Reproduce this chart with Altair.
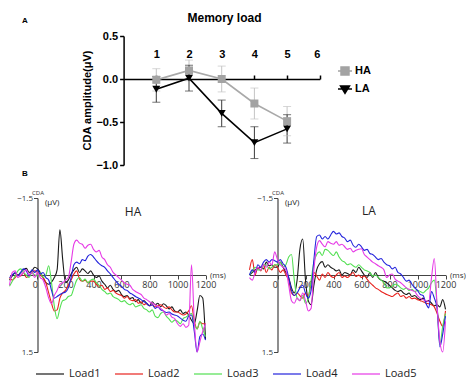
import altair as alt
import pandas as pd

# ---------------- Panel A data ----------------
loads = [1, 2, 3, 4, 5]
ha_mean = [-0.01, 0.10, 0.00, -0.285, -0.49]
ha_err = [0.13, 0.12, 0.15, 0.18, 0.17]
la_mean = [-0.12, 0.01, -0.40, -0.74, -0.58]
la_err = [0.15, 0.15, 0.155, 0.185, 0.165]
groups = ["HA", "LA"]
x_ticks_a = [1, 2, 3, 4, 5, 6]
y_ticks_a = [-1.0, -0.5, 0.0, 0.5]

# ---------------- Panel B data ----------------
times = list(range(-200, 1201, 20))
load_names = ["Load1", "Load2", "Load3", "Load4", "Load5"]
x_ticks_b = [0, 200, 400, 600, 800, 1000, 1200]
y_ticks_b = [-1.5, 1.5]

ha_load1 = [
    0.10, 0.02, -0.04, 0.00, -0.05, -0.10, -0.13, -0.05, -0.08, -0.15,
    -0.12, -0.05, 0.05, 0.15, 0.18, 0.14, 0.05, -0.10, -0.88, -0.30,
    0.15, 0.10, -0.02, -0.10, -0.15, -0.05, -0.12, -0.08, -0.03, -0.08,
    0.00, 0.05, 0.02, 0.12, 0.18, 0.25, 0.20, 0.28, 0.32, 0.30,
    0.38, 0.42, 0.40, 0.46, 0.44, 0.52, 0.48, 0.55, 0.50, 0.56,
    0.60, 0.52, 0.58, 0.55, 0.62, 0.56, 0.60, 0.66, 0.62, 0.70,
    0.72, 0.68, 0.75, 0.72, 0.78, 0.88, 0.95, 0.70, 0.40, 0.45,
    1.25]
ha_load2 = [
    0.05, 0.10, 0.05, 0.00, 0.02, -0.05, 0.05, 0.00, -0.05, -0.08,
    -0.05, 0.00, 0.05, 0.15, 0.35, 0.55, 0.70, 0.68, 0.45, 0.35,
    0.30, 0.20, 0.10, -0.02, -0.08, 0.08, 0.12, 0.10, 0.15, 0.12,
    0.12, 0.18, 0.22, 0.20, 0.28, 0.25, 0.32, 0.30, 0.35, 0.38,
    0.40, 0.45, 0.42, 0.48, 0.50, 0.48, 0.55, 0.52, 0.58, 0.55,
    0.60, 0.58, 0.62, 0.60, 0.58, 0.62, 0.65, 0.62, 0.68, 0.72,
    0.72, 0.75, 0.78, 0.76, 0.70, 0.60, 0.90, 1.05, 0.92, 0.95,
    0.95]
ha_load3 = [
    0.22, 0.12, 0.02, -0.08, -0.12, -0.05, 0.00, 0.05, -0.05, 0.00,
    0.02, -0.05, 0.05, 0.00, -0.18, 0.15, 0.60, 0.85, 0.65, 0.50,
    0.48, 0.42, 0.40, 0.25, 0.10, 0.05, 0.12, 0.08, 0.15, 0.10,
    0.08, 0.15, 0.20, 0.28, 0.32, 0.37, 0.35, 0.42, 0.45, 0.48,
    0.52, 0.50, 0.55, 0.58, 0.55, 0.62, 0.60, 0.58, 0.65, 0.68,
    0.72, 0.68, 0.80, 0.83, 0.75, 0.72, 0.80, 0.86, 0.92, 0.88,
    0.90, 0.95, 0.85, 0.82, 0.78, 0.75, 0.95, 1.05, 0.90, 1.05,
    1.20]
ha_load4 = [
    0.05, 0.00, -0.05, 0.02, -0.05, -0.12, -0.08, 0.02, -0.10, -0.05,
    -0.10, -0.02, -0.05, 0.05, 0.10, 0.30, 0.45, 0.42, 0.38, 0.35,
    0.33, 0.25, 0.05, -0.20, -0.25, -0.22, -0.30, -0.28, -0.37, -0.40,
    -0.35, -0.28, -0.22, -0.18, -0.15, -0.08, -0.02, 0.05, 0.12, 0.18,
    0.22, 0.28, 0.30, 0.35, 0.38, 0.42, 0.45, 0.48, 0.52, 0.55,
    0.60, 0.58, 0.65, 0.62, 0.68, 0.70, 0.73, 0.72, 0.76, 0.78,
    0.80, 0.84, 0.88, 0.90, 0.80, 0.78, 1.10, 1.50, 1.20, 1.15,
    1.27]
ha_load5 = [
    0.20, -0.05, -0.08, 0.05, 0.00, -0.05, -0.10, 0.00, -0.05, 0.05,
    -0.05, 0.05, 0.10, 0.25, 0.45, 0.56, 0.40, 0.30, 0.18, 0.15,
    0.10, 0.05, -0.25, -0.60, -0.68, -0.62, -0.60, -0.52, -0.58, -0.60,
    -0.50, -0.45, -0.48, -0.35, -0.30, -0.20, -0.15, -0.05, 0.00, 0.05,
    0.10, 0.15, 0.18, 0.20, 0.28, 0.32, 0.35, 0.38, 0.45, 0.48,
    0.52, 0.55, 0.58, 0.62, 0.65, 0.70, 0.78, 0.75, 0.82, 0.85,
    0.95, 1.00, 0.95, 1.02, 0.98, -0.20, 0.90, 1.50, 1.30, 1.10,
    0.95]

la_load1 = [
    0.00, -0.05, -0.10, -0.12, -0.15, -0.12, -0.25, -0.18, -0.20, -0.15,
    -0.15, -0.25, -0.15, -0.05, 0.05, 0.25, 0.35, 0.10, -0.50, -0.70,
    0.10, 0.50, 0.58, 0.20, -0.10, -0.22, -0.26, -0.15, -0.20, -0.15,
    -0.12, -0.08, -0.10, 0.00, -0.05, -0.03, 0.00, -0.10, -0.05, -0.15,
    -0.08, 0.00, 0.05, -0.05, 0.05, -0.05, 0.05, 0.10, 0.12, 0.15,
    0.20, 0.25, 0.30, 0.32, 0.30, 0.35, 0.38, 0.35, 0.42, 0.40,
    0.45, 0.48, 0.45, 0.52, 0.50, 0.55, 0.60, 0.58, 0.62, 0.48,
    0.67]
la_load2 = [
    -0.10, -0.30, 0.00, -0.15, -0.08, -0.20, -0.05, -0.15, -0.10, -0.20,
    -0.15, -0.05, -0.10, 0.00, 0.10, 0.35, 0.40, 0.35, 0.40, 0.45,
    0.35, 0.40, 0.15, -0.05, 0.02, 0.10, -0.02, 0.05, -0.05, 0.02,
    0.05, 0.00, -0.05, 0.05, 0.02, 0.05, 0.00, -0.05, 0.03, 0.00,
    0.05, 0.02, 0.08, 0.15, 0.20, 0.25, 0.28, 0.32, 0.35, 0.38,
    0.40, 0.42, 0.38, 0.35, 0.42, 0.40, 0.45, 0.42, 0.46, 0.45,
    0.48, 0.50, 0.52, 0.55, 0.56, 0.58, 0.62, 0.75, 0.90, 1.00,
    0.70]
la_load3 = [
    0.00, -0.08, -0.15, -0.10, -0.10, -0.18, -0.20, -0.12, -0.15, -0.20,
    -0.20, -0.25, -0.15, -0.20, -0.35, -0.40, 0.10, 0.45, 0.50, 0.40,
    0.55, 0.45, 0.10, -0.25, -0.40, -0.45, -0.38, -0.50, -0.48, -0.42,
    -0.38, -0.45, -0.35, -0.28, -0.25, -0.20, -0.22, -0.18, -0.15, -0.20,
    -0.15, -0.10, -0.08, -0.05, 0.02, 0.00, 0.05, 0.10, 0.15, 0.25,
    0.25, 0.22, 0.18, 0.20, 0.25, 0.28, 0.25, 0.30, 0.28, 0.32,
    0.30, 0.32, 0.35, 0.30, 0.25, 0.15, 0.10, 0.60, 1.35, 1.00,
    0.75]
la_load4 = [
    0.00, -0.10, -0.05, -0.20, -0.15, -0.25, -0.30, -0.25, -0.30, -0.28,
    -0.25, -0.30, -0.22, -0.15, 0.05, 0.30, 0.40, 0.35, 0.25, 0.20,
    0.35, 0.45, 0.30, -0.30, -0.75, -0.78, -0.70, -0.75, -0.70, -0.78,
    -0.85, -0.80, -0.82, -0.75, -0.72, -0.65, -0.68, -0.58, -0.54, -0.60,
    -0.55, -0.48, -0.50, -0.42, -0.40, -0.35, -0.30, -0.32, -0.25, -0.20,
    -0.18, -0.12, -0.15, -0.05, -0.02, 0.05, 0.12, 0.10, 0.18, 0.25,
    0.30, 0.38, 0.40, 0.55, 0.64, 0.32, 0.45, 0.65, 1.40, 1.15,
    0.80]
la_load5 = [
    0.05, 0.10, -0.05, -0.15, -0.10, -0.20, -0.15, -0.25, -0.20, -0.45,
    -0.30, -0.20, -0.15, -0.10, 0.20, 0.50, 0.55, 0.45, 0.50, 0.35,
    0.50, 0.70, 0.65, -0.10, -0.55, -0.67, -0.60, -0.55, -0.65, -0.62,
    -0.60, -0.65, -0.58, -0.60, -0.55, -0.50, -0.52, -0.45, -0.48, -0.50,
    -0.51, -0.40, -0.35, -0.30, -0.25, -0.22, -0.18, -0.15, -0.10, 0.05,
    0.00, -0.02, 0.08, 0.12, 0.15, 0.20, 0.25, 0.28, 0.30, 0.32,
    0.40, 0.45, 0.48, 0.50, 0.52, 0.05, -0.32, 0.60, 1.30, 1.50,
    0.90]

ha_series = [ha_load1, ha_load2, ha_load3, ha_load4, ha_load5]
la_series = [la_load1, la_load2, la_load3, la_load4, la_load5]
for s in ha_series + la_series:
    assert len(s) == len(times), len(s)

# ---------------- tables ----------------
df_a = pd.DataFrame({
    "load": loads * 2,
    "series": ["HA"] * 5 + ["LA"] * 5,
    "mean": ha_mean + la_mean,
    "err": ha_err + la_err,
})
df_a["lo"] = df_a["mean"] - df_a["err"]
df_a["hi"] = df_a["mean"] + df_a["err"]
df_a_ha = df_a[df_a["series"] == "HA"]
df_a_la = df_a[df_a["series"] == "LA"]


def long_table(series_list):
    rows = []
    for name, vals in zip(load_names, series_list):
        for t, v in zip(times, vals):
            rows.append({"time": t, "load": name, "value": v})
    return pd.DataFrame(rows)


df_ha = long_table(ha_series)
df_la = long_table(la_series)

# ---------------- layout constants ----------------
W, H = 458, 374
FA = "Liberation Sans"
FB = "Open Sans"

xa_scale = alt.Scale(domain=[0, 6], range=[115.6, 311.8], nice=False, zero=False)
ya_scale = alt.Scale(domain=[-1.0, 0.5], range=[157, 28], nice=False, zero=False)
YA0 = 157 - (1.0 / 1.5) * (157 - 28)

yb_scale = alt.Scale(domain=[-1.5, 1.5], range=[190, 344], nice=False, zero=False)
YB0 = (190 + 344) / 2
xb_left = alt.Scale(domain=[-200, 1200], range=[1.5, 197.5], nice=False, zero=False)
xb_right = alt.Scale(domain=[-200, 1200], range=[241.5, 437.5], nice=False, zero=False)

err_colors = alt.Scale(domain=groups, range=["#c4c4c4", "#3a3a3a"])
line_colors = alt.Scale(domain=groups, range=["#a9a9a9", "#000000"])
HA_GRAY = "#a3a3a3"
load_colors = alt.Scale(domain=load_names,
                        range=["#1a1a1a", "#e8231f", "#52e052", "#2424dc", "#e63ae6"])

# legend symbols for A: marker with a short line through it
HA_SYM = "M-1,0H-0.57M0.57,0H1M-0.57,-0.57H0.57V0.57H-0.57Z"
LA_SYM = "M-1,0H1M-0.64,-0.42H0.64L0,0.62Z"

# ---------------- Panel A ----------------
axis_xa = alt.Axis(orient="top", offset=-YA0, values=x_ticks_a, format="d",
                   tickSize=4, tickWidth=1.5, tickColor="black",
                   domainColor="black", domainWidth=1.5, grid=False,
                   labelFont=FA, labelFontSize=11, labelFontWeight="bold",
                   labelColor="black", labelPadding=16,
                   title="Memory load", titleFont=FA, titleFontSize=12,
                   titleFontWeight="bold", titleColor="black",
                   titleX=216, titleY=9 - YA0, titleAlign="center",
                   titleBaseline="middle")
axis_ya = alt.Axis(orient="left", offset=-115.6, values=y_ticks_a, format=".1f",
                   tickSize=4, tickWidth=1.5, tickColor="black",
                   domainColor="black", domainWidth=1.5, grid=False,
                   labelFont=FA, labelFontSize=11, labelFontWeight="bold",
                   labelColor="black", labelPadding=2,
                   title="CDA amplitude(μV)", titleFont=FA, titleFontSize=11,
                   titleFontWeight="bold", titleColor="black",
                   titleAngle=270, titleX=-36, titleY=92,
                   titleAlign="center", titleBaseline="middle")

a_err = alt.Chart(df_a).mark_rule(strokeWidth=1).encode(
    x=alt.X("load:Q", scale=xa_scale, axis=axis_xa),
    y=alt.Y("lo:Q", scale=ya_scale, axis=axis_ya),
    y2="hi:Q",
    color=alt.Color("series:N", scale=err_colors, legend=None),
)
a_cap_lo = alt.Chart(df_a).mark_tick(orient="horizontal", size=8, thickness=1).encode(
    x=alt.X("load:Q", scale=xa_scale, axis=None),
    y=alt.Y("lo:Q", scale=ya_scale, axis=None),
    color=alt.Color("series:N", scale=err_colors, legend=None),
)
a_cap_hi = alt.Chart(df_a).mark_tick(orient="horizontal", size=8, thickness=1).encode(
    x=alt.X("load:Q", scale=xa_scale, axis=None),
    y=alt.Y("hi:Q", scale=ya_scale, axis=None),
    color=alt.Color("series:N", scale=err_colors, legend=None),
)
a_line = alt.Chart(df_a).mark_line(strokeWidth=1.6).encode(
    x=alt.X("load:Q", scale=xa_scale, axis=None),
    y=alt.Y("mean:Q", scale=ya_scale, axis=None),
    color=alt.Color("series:N", scale=line_colors, legend=None),
)


def a_points(df, name, color, shape, sym, legend_y):
    leg = alt.Legend(title=None, orient="none", legendX=329, legendY=legend_y,
                     symbolType=sym, symbolSize=196, symbolStrokeColor=color,
                     symbolStrokeWidth=1.5, labelFont=FA, labelFontSize=11,
                     labelFontWeight="bold", labelColor="black", labelOffset=2,
                     padding=0)
    return alt.Chart(df).mark_point(filled=True, opacity=1, size=64, shape=shape).encode(
        x=alt.X("load:Q", scale=xa_scale, axis=None),
        y=alt.Y("mean:Q", scale=ya_scale, axis=None),
        color=alt.Color("series:N", scale=alt.Scale(domain=[name], range=[color]),
                        legend=leg),
    )


a_pts_ha = a_points(df_a_ha, "HA", HA_GRAY, "square", HA_SYM, 55)
a_pts_la = a_points(df_a_la, "LA", "#000000", "triangle-down", LA_SYM, 73)

# ---------------- Panel B ----------------
def b_xaxis(title_x):
    return alt.Axis(orient="bottom", offset=-(H - YB0), values=x_ticks_b, format="d",
                    tickSize=4, tickColor="#444", domainColor="#444",
                    domainWidth=1.2, grid=False, labelFont=FB, labelFontSize=9,
                    labelColor="#333", labelPadding=1,
                    labelAlign={"condition": {"test": "datum.value === 0", "value": "right"},
                                "value": "center"},
                    title="(ms)", titleFont=FB, titleFontSize=8,
                    titleFontWeight="normal", titleColor="#333",
                    titleX=title_x, titleY=0, titleAlign="left",
                    titleBaseline="middle")


def b_yaxis(x0):
    return alt.Axis(orient="left", offset=-x0, values=y_ticks_b, format=".1f",
                    tickSize=4, tickColor="#444", domainColor="#444",
                    domainWidth=1.2, grid=False, labelFont=FB, labelFontSize=8,
                    labelColor="#333", labelPadding=1,
                    title="CDA", titleFont=FB, titleFontSize=6,
                    titleFontWeight="normal", titleColor="#333", titleAngle=0,
                    titleX=0, titleY=184, titleAlign="center",
                    titleBaseline="middle")


b_ha = alt.Chart(df_ha).mark_line(strokeWidth=1.1, interpolate="monotone").encode(
    x=alt.X("time:Q", scale=xb_left, axis=b_xaxis(201.5)),
    y=alt.Y("value:Q", scale=yb_scale, axis=b_yaxis(29.5)),
    color=alt.Color("load:N", scale=load_colors,
                    legend=alt.Legend(title=None, orient="none", direction="horizontal",
                                      legendX=27, legendY=351, symbolType="stroke",
                                      symbolSize=784, symbolStrokeWidth=1.2,
                                      labelFont=FB, labelFontSize=11, labelColor="#222",
                                      labelOffset=4, columnPadding=11, padding=0)),
)
b_la = alt.Chart(df_la).mark_line(strokeWidth=1.1, interpolate="monotone").encode(
    x=alt.X("time:Q", scale=xb_right, axis=b_xaxis(441.5)),
    y=alt.Y("value:Q", scale=yb_scale, axis=b_yaxis(269.5)),
    color=alt.Color("load:N", scale=load_colors, legend=None),
)

# ---------------- annotations ----------------
def label(text, x, y, size, weight="normal", font=FB, align="center", color="#222"):
    return alt.Chart(pd.DataFrame({"t": [text]})).mark_text(
        font=font, fontSize=size, fontWeight=weight, align=align,
        baseline="middle", color=color).encode(
        x=alt.value(x), y=alt.value(y), text="t:N")


annots = [
    label("A", 17, 13, 8, "bold", FA, color="black"),
    label("B", 17, 166, 8, "bold", FA, color="black"),
    label("HA", 125, 204, 12),
    label("LA", 361, 203, 12),
    label("(μV)", 37, 195, 8, align="left"),
    label("(μV)", 277, 195, 8, align="left"),
]

chart = alt.layer(
    a_err, a_cap_lo, a_cap_hi, a_line, a_pts_ha, a_pts_la, b_ha, b_la, *annots
).resolve_scale(
    x="independent", y="independent", color="independent"
).properties(
    width=W, height=H, padding=0, autosize=alt.AutoSizeParams(type="none")
).configure_view(stroke=None)

chart.save("out.html", embed_options={"renderer": "svg", "actions": False})
